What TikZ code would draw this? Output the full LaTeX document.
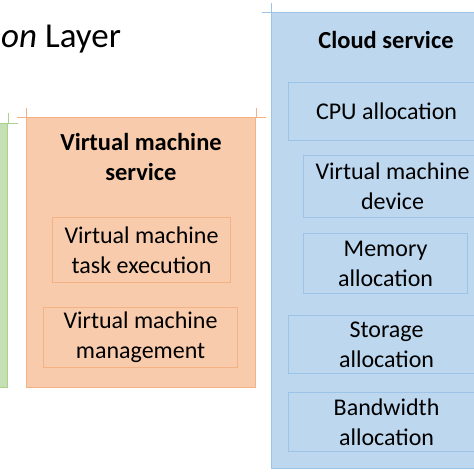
\documentclass[tikz,border=0pt]{standalone}
\usepackage{fontspec}
\setmainfont{Carlito}
\definecolor{grfill}{HTML}{C5E0B4}
\definecolor{grline}{HTML}{A9D18E}
\definecolor{orfill}{HTML}{F8CBAD}
\definecolor{orline}{HTML}{F4B183}
\definecolor{blfill}{HTML}{BDD7EE}
\definecolor{blline}{HTML}{9DC3E6}
\tikzset{
  panel/.style={draw=#1line, fill=#1fill, line width=1.3pt, anchor=north west, inner sep=0pt},
  subbox/.style={draw=#1line, line width=1.1pt, anchor=north west, inner sep=0pt, align=center,
     font=\fontsize{24}{30}\selectfont},
  headtext/.style={align=center, font=\fontsize{24.5}{30}\selectfont\bfseries, inner sep=0pt},
  cropmark/.style={draw=#1line, line width=0.8pt}
}
\begin{document}
\begin{tikzpicture}[x=1pt,y=-1pt]
\clip (0,0) rectangle (474,474);
\fill[white] (0,0) rectangle (474,474);
% title
\node[anchor=base west, inner sep=0pt, font=\fontsize{35}{40}\selectfont] (title) at (1,47) {\textit{on} Layer};
% green panel
\node[panel=gr, minimum width=30pt, minimum height=264pt] (green) at (-23,123) {};
\draw[cropmark=gr] ([yshift=10pt]green.north east) -- (green.north east) -- ([xshift=10pt]green.north east);
% orange panel
\node[panel=or, minimum width=229pt, minimum height=270pt] (orange) at (26,117) {};
\draw[cropmark=or] ([yshift=9pt]orange.north west) -- (orange.north west) -- ([xshift=-9pt]orange.north west);
\draw[cropmark=or] ([yshift=9pt]orange.north east) -- (orange.north east) -- ([xshift=10pt]orange.north east);
\node[headtext] (vmtitle) at (141,157) {Virtual machine\\service};
\node[subbox=or, minimum width=178pt, minimum height=65pt] (vmtask) at (52,217) {Virtual machine\\task execution};
\node[subbox=or, minimum width=194pt, minimum height=60pt] (vmman) at (43,307) {Virtual machine\\management};
% blue panel
\node[panel=bl, minimum width=240pt, minimum height=456pt] (blue) at (271,12) {};
\draw[cropmark=bl] ([yshift=9pt]blue.north west) -- (blue.north west) -- ([xshift=-9pt]blue.north west);
\node[headtext] (cstitle) at (386,40) {Cloud service};
\node[subbox=bl, minimum width=196pt, minimum height=58pt] (cpu) at (288,82) {CPU allocation};
\node[subbox=bl, minimum width=178pt, minimum height=62pt] (vmdev) at (303,155) {Virtual machine\\device};
\node[subbox=bl, minimum width=164pt, minimum height=60pt] (mem) at (303,233) {Memory\\allocation};
\node[subbox=bl, minimum width=196pt, minimum height=58pt] (stor) at (288,315) {Storage\\allocation};
\node[subbox=bl, minimum width=196pt, minimum height=59pt] (band) at (288,392) {Bandwidth\\allocation};
\end{tikzpicture}
\end{document}
